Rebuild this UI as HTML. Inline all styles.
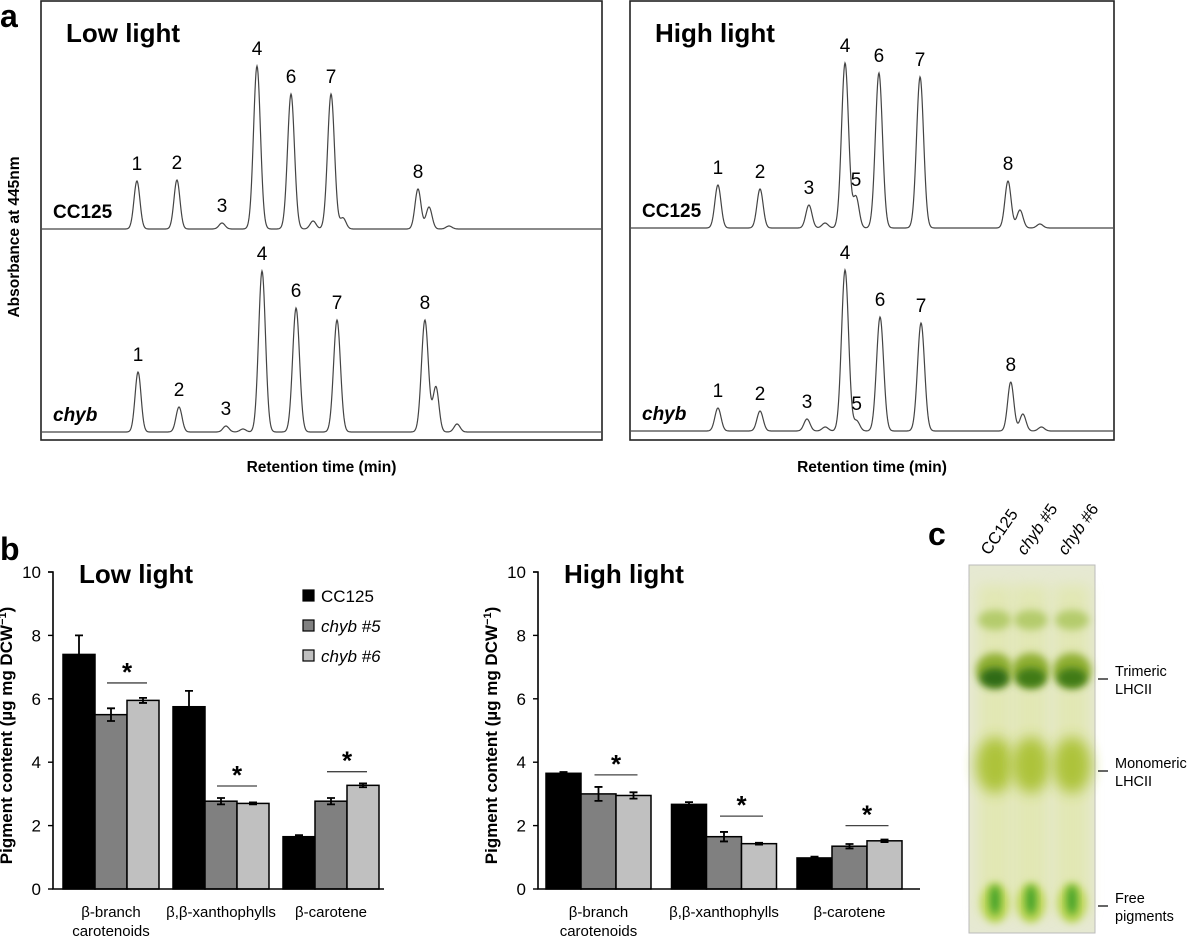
<!DOCTYPE html>
<html><head><meta charset="utf-8">
<style>
html,body{margin:0;padding:0;background:#fff;}
svg{display:block;font-family:"Liberation Sans",Arial,sans-serif;}
</style></head>
<body>
<svg id="fig" width="1200" height="941" viewBox="0 0 1200 941" xmlns="http://www.w3.org/2000/svg">
<defs>
<filter id="blur4" x="-50%" y="-50%" width="200%" height="200%"><feGaussianBlur stdDeviation="4"/></filter>
<filter id="blur7" x="-50%" y="-50%" width="200%" height="200%"><feGaussianBlur stdDeviation="7"/></filter>
</defs>
<text x="0" y="27" font-size="32" font-weight="bold">a</text>
<text x="0" y="560" font-size="32" font-weight="bold">b</text>
<text x="928" y="545" font-size="32" font-weight="bold">c</text>
<text transform="translate(19,237) rotate(-90)" text-anchor="middle" font-size="15.5" font-weight="bold">Absorbance at 445nm</text>
<g id="chroma"></g>
<g id="bars"></g>
<g id="gel"></g>
</svg>
<script>
// ---------- Chromatogram data (retention time in min, peak height in mAU) ----------
const llCC125Times = [5.13, 7.27, 9.68, 11.55, 13.37, 14.55, 15.51, 16.15, 20.16, 20.75, 21.82];
const llCC125Heights = [48, 49, 6, 163, 135, 8, 135, 11, 40, 22, 3];
const llCC125Labels = ['1','2','3','4','6','','7','','8','',''];
const llChybTimes = [5.19, 7.38, 9.89, 10.8, 11.82, 13.64, 15.83, 20.53, 21.12, 22.25];
const llChybHeights = [60, 25, 6, 3, 161, 124, 112, 112, 45, 8];
const llChybLabels = ['1','2','3','','4','6','7','8','',''];
const hlCC125Times = [5.45, 8.06, 11.09, 12.09, 13.33, 14.01, 15.43, 17.98, 23.43, 24.17, 25.41];
const hlCC125Heights = [43, 39, 23, 5, 165, 31, 155, 151, 47, 18, 4];
const hlCC125Labels = ['1','2','3','','4','5','6','7','8','',''];
const hlChybTimes = [5.45, 8.06, 10.97, 12.1, 13.33, 14.05, 15.5, 18.04, 23.6, 24.35, 25.5];
const hlChybHeights = [23, 20, 12, 4, 161, 10, 114, 108, 49, 17, 4];
const hlChybLabels = ['1','2','3','','4','5','6','7','8','',''];

// ---------- Bar chart data ----------
const categories = ['β-branch|carotenoids', 'β,β-xanthophylls', 'β-carotene'];
const seriesNames = ['CC125', 'chyb #5', 'chyb #6'];
const lowCC125 = [7.4, 5.75, 1.65];
const lowChyb5 = [5.5, 2.77, 2.77];
const lowChyb6 = [5.95, 2.7, 3.27];
const lowErrCC125 = [0.6, 0.5, 0.05];
const lowErrChyb5 = [0.2, 0.1, 0.1];
const lowErrChyb6 = [0.08, 0.03, 0.06];
const lowSig = [6.5, 3.25, 3.7];
const highCC125 = [3.65, 2.67, 0.98];
const highChyb5 = [3.0, 1.65, 1.35];
const highChyb6 = [2.95, 1.43, 1.52];
const highErrCC125 = [0.04, 0.07, 0.04];
const highErrChyb5 = [0.22, 0.15, 0.07];
const highErrChyb6 = [0.1, 0.03, 0.04];
const highSig = [3.6, 2.3, 2.0];
const yTicks = [0, 2, 4, 6, 8, 10];

const NS = 'http://www.w3.org/2000/svg';
function mk(tag, attrs, parent){const e=document.createElementNS(NS,tag);for(const k in attrs)e.setAttribute(k,attrs[k]);parent.appendChild(e);return e;}

// ---------- Chromatograms ----------
const chroma = document.getElementById('chroma');
function chromPanel(x0, x1, top, bottom, title, traces, name){
  const g = mk('g', {}, chroma);
  
  
  const box = mk('rect', {x:x0, y:top, width:x1-x0, height:bottom-top, fill:'none', stroke:'#222', 'stroke-width':1.6}, g);
  
  
  const t = mk('text', {x:x0+25, y:top+41, 'font-size':26, 'font-weight':'bold'}, g);
  t.textContent = title;
  
  
  const xScale = tm => x0 + tm/30*(x1-x0);
  const xt = mk('text', {x:(x0+x1)/2, y:bottom+32, 'font-size':15.5, 'font-weight':'bold', 'text-anchor':'middle'}, g);
  xt.textContent = 'Retention time (min)';
  
  
  traces.forEach(tr=>{
    const yScale = h => tr.base - h;
    let d='';
    for(let px=x0+1; px<=x1-1; px+=0.5){
      const tm=(px-x0)/(x1-x0)*30;
      let v=0;
      tr.times.forEach((c,i)=>{const s=tr.sig*(tr.heights[i]>100?1.15:1);v+=tr.heights[i]*Math.exp(-((tm-c)*(tm-c))/(2*s*s));});
      d+=(d?'L':'M')+px.toFixed(1)+' '+yScale(v).toFixed(1);
    }
    const p = mk('path', {d:d, fill:'none', stroke:'#444', 'stroke-width':1.2}, g);
    
    
    tr.labels.forEach((l,i)=>{
      if(!l) return;
      const lt = mk('text', {x:xScale(tr.times[i]), y:yScale(tr.heights[i])-11, 'font-size':19, 'text-anchor':'middle'}, g);
      lt.textContent = l;
      
      
    });
    const sl = mk('text', {x:x0+12, y:tr.base-11, 'font-size':19, 'font-weight':'bold', 'font-style':tr.italic?'italic':'normal'}, g);
    sl.textContent = tr.label;
    
    
  });
}
chromPanel(41, 602, 1, 440, 'Low light', [
  {times:llCC125Times, heights:llCC125Heights, labels:llCC125Labels, base:229, sig:0.16, label:'CC125', italic:false, name:'low-cc125'},
  {times:llChybTimes, heights:llChybHeights, labels:llChybLabels, base:432, sig:0.16, label:'chyb', italic:true, name:'low-chyb'}
], 'chromatogram-low-light');
chromPanel(630, 1114, 1, 440, 'High light', [
  {times:hlCC125Times, heights:hlCC125Heights, labels:hlCC125Labels, base:228, sig:0.19, label:'CC125', italic:false, name:'high-cc125'},
  {times:hlChybTimes, heights:hlChybHeights, labels:hlChybLabels, base:431, sig:0.19, label:'chyb', italic:true, name:'high-chyb'}
], 'chromatogram-high-light');

// ---------- Bar charts ----------
const barsG = document.getElementById('bars');
const fills = ['#000000', '#808080', '#c0c0c0'];
function barChart(o){
  const g = mk('g', {}, barsG);
  
  
  const y0=889, y10=572;
  const yScale = v => y0 - v/10*(y0-y10);
  const xScale = (ci, si) => o.gx0 + ci*o.gstep + si*o.bw;
  const series=[o.s1,o.s2,o.s3], errs=[o.e1,o.e2,o.e3];
  series.forEach((s,si)=>{
    s.forEach((v,ci)=>{
      const r = mk('rect', {x:xScale(ci,si), y:yScale(v), width:o.bw, height:y0-yScale(v), fill:fills[si], stroke:'#000', 'stroke-width':1.5}, g);
      
      
      const cx = xScale(ci,si)+o.bw/2, e=errs[si][ci];
      const eb = mk('path', {d:`M${cx} ${yScale(v+e)}V${yScale(si==0?v:v-e)}M${cx-4} ${yScale(v+e)}H${cx+4}`+(si==0?'':`M${cx-4} ${yScale(v-e)}H${cx+4}`), stroke:'#000', 'stroke-width':1.8, fill:'none'}, g);
      
      
    });
  });
  o.sig.forEach((v,ci)=>{
    const xa = xScale(ci,1)+o.bw/2-4, xb = xScale(ci,2)+o.bw/2+4;
    const l = mk('line', {x1:xa, x2:xb, y1:yScale(v), y2:yScale(v), stroke:'#444', 'stroke-width':1.3}, g);
    
    
    const st = mk('text', {x:(xa+xb)/2, y:yScale(v)-2, 'font-size':26, 'font-weight':'bold', 'text-anchor':'middle'}, g);
    st.textContent='*';
    
    
  });
  const ax = mk('path', {d:`M${o.ax-5} ${y10}H${o.ax}V${y0}H${o.axEnd}`, fill:'none', stroke:'#000', 'stroke-width':1.6}, g);
  
  
  yTicks.forEach(t=>{
    const tk = mk('line', {x1:o.ax-5, x2:o.ax, y1:yScale(t), y2:yScale(t), stroke:'#000', 'stroke-width':1.4}, g);
    
    
    const tl = mk('text', {x:o.ax-12, y:yScale(t)+6, 'font-size':17, 'text-anchor':'end'}, g);
    tl.textContent = t;
    
    
  });
  categories.forEach((c,ci)=>{
    const lines=c.split('|');
    lines.forEach((ln,li)=>{
      const ct = mk('text', {x:xScale(ci,1)+o.bw/2, y:917+li*19, 'font-size':15, 'text-anchor':'middle'}, g);
      ct.textContent = ln;
      
      
    });
  });
  const yt = mk('text', {transform:`translate(${o.ax-41},${(y0+y10)/2+5}) rotate(-90)`, 'font-size':17, 'font-weight':'bold', 'text-anchor':'middle'}, g);
  yt.innerHTML = 'Pigment content (µg mg DCW<tspan font-size="11" dy="-6">−1</tspan><tspan dy="6">)</tspan>';
  
  
  const tt = mk('text', {x:o.ax+26, y:583, 'font-size':26, 'font-weight':'bold'}, g);
  tt.textContent = o.title;
  
  
}
barChart({name:'bar-chart-low-light', title:'Low light', ax:53, axEnd:384, gx0:63, gstep:110, bw:32,
  s1:lowCC125, s2:lowChyb5, s3:lowChyb6, e1:lowErrCC125, e2:lowErrChyb5, e3:lowErrChyb6, sig:lowSig});
barChart({name:'bar-chart-high-light', title:'High light', ax:538, axEnd:920, gx0:546, gstep:125.5, bw:35,
  s1:highCC125, s2:highChyb5, s3:highChyb6, e1:highErrCC125, e2:highErrChyb5, e3:highErrChyb6, sig:highSig});
// legend
seriesNames.forEach((n,i)=>{
  const lg = mk('g', {}, barsG);
  
  
  mk('rect', {x:303, y:590+i*30, width:11, height:11, fill:fills[i], stroke:'#000', 'stroke-width':1.2}, lg);
  const t = mk('text', {x:321, y:602+i*30, 'font-size':17}, lg);
  if(i==0) t.textContent=n; else t.innerHTML='<tspan font-style="italic">chyb</tspan> <tspan font-style="italic">'+n.split(' ')[1]+'</tspan>';
});

// ---------- Gel (panel c) ----------
const gel = document.getElementById('gel');
const lanes = [995, 1031, 1072];
const laneNames = ['CC125', 'chyb #5', 'chyb #6'];
const gbg = mk('rect', {x:969, y:565, width:126, height:368, fill:'#e6e9d2', stroke:'#bbb', 'stroke-width':1}, gel);


lanes.forEach((cx,i)=>{
  const lg = mk('g', {}, gel);
  
  
  mk('rect', {x:cx-17, y:585, width:34, height:330, fill:'#dfe6a0', opacity:0.6, filter:'url(#blur7)'}, lg);
  mk('ellipse', {cx:cx, cy:620, rx:17, ry:10, fill:'#a9c55a', opacity:0.8, filter:'url(#blur4)'}, lg);
  mk('ellipse', {cx:cx, cy:670, rx:19, ry:17, fill:'#8faf33', filter:'url(#blur4)'}, lg);
  mk('ellipse', {cx:cx, cy:678, rx:15, ry:10, fill:i==0?'#2f6a12':'#3f7a18', filter:'url(#blur4)'}, lg);
  mk('ellipse', {cx:cx, cy:765, rx:19, ry:28, fill:'#a8c02e', opacity:0.9, filter:'url(#blur7)'}, lg);
  mk('ellipse', {cx:cx, cy:903, rx:14, ry:20, fill:'#b8d450', filter:'url(#blur4)'}, lg);
  mk('ellipse', {cx:cx, cy:900, rx:5, ry:15, fill:'#3fa028', filter:'url(#blur4)'}, lg);
  const lt = mk('text', {transform:`translate(${cx-6},${556}) rotate(-55)`, 'font-size':16.5}, gel);
  if(i==0) lt.textContent=laneNames[i]; else lt.innerHTML='<tspan font-style="italic">chyb</tspan> '+laneNames[i].split(' ')[1];
  
  
});
[['Trimeric','LHCII',679],['Monomeric','LHCII',771],['Free','pigments',906]].forEach(b=>{
  const bg = mk('g', {}, gel);
  
  
  mk('line', {x1:1098, x2:1108, y1:b[2], y2:b[2], stroke:'#000', 'stroke-width':1.2}, bg);
  const t1 = mk('text', {x:1115, y:b[2]-3, 'font-size':14.5}, bg); t1.textContent=b[0];
  const t2 = mk('text', {x:1115, y:b[2]+15, 'font-size':14.5}, bg); t2.textContent=b[1];
});
</script>
</body></html>
